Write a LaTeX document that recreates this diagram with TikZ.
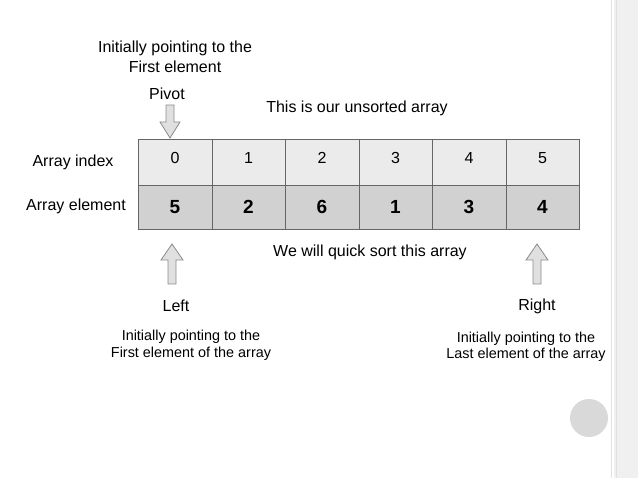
\documentclass[tikz,border=0pt]{standalone}
\usepackage{fontspec}
\setmainfont{Liberation Sans}
\begin{document}
\begin{tikzpicture}[x=1pt,y=-1pt,
  lbl/.style={font=\fontsize{16}{18}\selectfont,inner sep=0pt,align=center},
  sml/.style={font=\fontsize{14.4}{16}\selectfont,inner sep=0pt,align=center},
  cellA/.style={draw=black!60,fill=black!8,minimum width=73.5pt,minimum height=46pt,inner sep=0pt,anchor=north west,font=\fontsize{16}{18}\selectfont},
  cellB/.style={draw=black!60,fill=black!18,minimum width=73.5pt,minimum height=44pt,inner sep=0pt,anchor=north west,font=\bfseries\fontsize{19}{22}\selectfont},
  barrow/.style={draw=black!45,fill=black!12,line width=0.8pt}]
\fill[white] (0,0) rectangle (638,478);
\useasboundingbox (0,0) rectangle (638,478);
\fill[black!6] (614,0) rectangle (638,478);
\draw[black!12,line width=1pt] (611,0) -- (611,478);
\draw[black!12,line width=1pt] (616,0) -- (616,478);
\fill[black!15] (589,418) circle (19);
\foreach \i/\a/\b in {0/0/5,1/1/2,2/2/6,3/3/1,4/4/3,5/5/4}{
  \node[cellA,text depth=0pt] (i\i) at ({138+73.5*\i},139) {\raisebox{8pt}{\a}};
  \node[cellB] (e\i) at ({138+73.5*\i},185) {\b};
}
\node[lbl] (t1) at (175,48) {Initially pointing to the};
\node[lbl] (t2) at (175,67) {First element};
\node[lbl] (pv) at (167,94) {Pivot};
\node[lbl] (us) at (357,108) {This is our unsorted array};
\node[lbl] (ai) at (73,162) {Array index};
\node[lbl] (ae) at (76,206) {Array element};
\node[lbl] (qs) at (370,252) {We will quick sort this array};
\node[lbl] (lf) at (176,306) {Left};
\node[lbl] (rt) at (537,306) {Right};
\node[sml] (l1) at (191,337) {Initially pointing to the};
\node[sml] (l2) at (191,354) {First element of the array};
\node[sml] (r1) at (526,339) {Initially pointing to the};
\node[sml] (r2) at (526,355) {Last element of the array};
\draw[barrow] (166,105) -- (174,105) -- (174,122) -- (180,122) -- (170,138) -- (160,122) -- (166,122) -- cycle;
\draw[barrow] (168,284) -- (176,284) -- (176,260) -- (183,260) -- (172,244) -- (161,260) -- (168,260) -- cycle;
\draw[barrow] (533,284) -- (541,284) -- (541,260) -- (548,260) -- (537,244) -- (526,260) -- (533,260) -- cycle;
\end{tikzpicture}
\end{document}
